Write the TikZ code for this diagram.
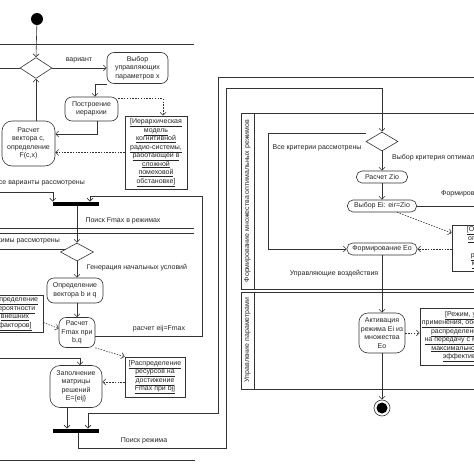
\documentclass[tikz,border=0pt]{standalone}
\usepackage{fontspec}
\setmainfont{Liberation Sans}
\usetikzlibrary{arrows.meta,shapes.geometric,calc}
\newcommand{\ft}{\fontsize{7}{8.5}\selectfont\lineskiplimit=-10pt\relax}
\newcommand{\ul}[1]{\underline{#1}}
\tikzset{
 base/.style={line width=0.6pt, draw=black!80},
 arr/.style={base, -{Straight Barb[length=3pt,width=6pt,line width=0.6pt]}},
 dasharr/.style={arr, dash pattern=on 1.5pt off 1.3pt},
 act/.style={draw=black!80, line width=0.6pt, rounded corners=7pt, align=center, font=\ft, text=black!85, inner sep=0.5pt},
 pill/.style={act, rounded corners=5.5pt},
 obj/.style={draw=black!80, line width=0.6pt, align=center, font=\ft, text=black!85, inner sep=0.5pt},
 dec/.style={draw=black!80, line width=0.6pt, diamond, inner sep=0pt},
 bar/.style={fill=black, inner sep=0pt, minimum width=46pt, minimum height=4.5pt},
 lbl/.style={font=\ft, text=black!85, inner sep=0pt},
 lane/.style={line width=0.9pt, draw=black!80},
}
\begin{document}
\begin{tikzpicture}[x=1pt,y=-1pt]
\useasboundingbox (0,0) rectangle (474,474);
\clip (0,0) rectangle (474,474);
\fill[white] (0,0) rectangle (474,474);

% ---------- left partition lines
\draw[base] (0,44) -- (194,44);
\draw[base] (0,228) -- (194,228);
\draw[base] (0,233) -- (194,233);
\draw[base] (0,460) -- (195,460);

% ---------- right frame (swimlanes)
\draw[lane] (241,113) rectangle (490,289);
\draw[base] (254,113) -- (254,289);
\draw[lane] (241,292) rectangle (490,389);
\draw[base] (254,292) -- (254,389);
\node[lbl, rotate=90] (lane1) at (247.5,201) {Формирование множества оптимальных режимов};
\node[lbl, rotate=90] (lane2) at (247.5,340) {Управление параметрами};

% ---------- upper left nodes
\node[fill=black, circle, inner sep=0pt, minimum size=12pt] (start) at (37,19) {};
\node[dec, minimum width=32pt, minimum height=21pt] (d1) at (36,68) {};
\node[act, minimum width=61pt, minimum height=31pt] (vybor) at (137.5,68) {Выбор\\управляющих\\параметров x};
\node[act, minimum width=53pt, minimum height=24pt] (postr) at (91.5,109) {Построение\\иерархии};
\node[obj, minimum width=62pt, minimum height=73pt] (hier) at (156,152.5) {\ul{[Иерархическая}\\\ul{модель}\\\ul{когнитивной}\\\ul{радио-системы,}\\\ul{работающей в}\\\ul{сложной}\\\ul{помеховой}\\\ul{обстановке]}};
\node[act, minimum width=53pt, minimum height=45pt, rounded corners=10pt] (rv) at (28.5,143.5) {Расчет\\вектора c,\\определение\\F(c,x)};

\node[bar] (bar1) at (76,204) {};
\node[dec, minimum width=33pt, minimum height=18pt] (d2) at (77,252) {};
\node[act, minimum width=56pt, minimum height=25pt] (opr) at (75,290.5) {Определение\\вектора b и q};
\node[act, minimum width=36pt, minimum height=30pt] (rfm) at (77,332.5) {Расчет\\Fmax при\\b,q};
\node[obj, minimum width=56pt, minimum height=37pt] (vnesh) at (15,313.5) {\ul{[Определение}\\\ul{вероятности}\\\ul{внешних}\\\ul{факторов]}};
\node[obj, minimum width=60pt, minimum height=40pt] (rasp) at (155,377) {\ul{[Распределение}\\\ul{ресурсов на}\\\ul{достижение}\\\ul{Fmax при bj]}};
\node[act, minimum width=52pt, minimum height=42pt, rounded corners=10pt] (zap) at (76,386.5) {Заполнение\\матрицы\\решений\\E=\{eij\}};
\node[bar] (bar2) at (76,431) {};

% ---------- right nodes
\node[dec, minimum width=32pt, minimum height=19pt] (d3) at (382,141.5) {};
\node[pill, minimum width=51pt, minimum height=12pt] (zio) at (382,177) {Расчет Zio};
\node[pill, minimum width=69pt, minimum height=12pt] (vei) at (382,206) {Выбор Ei: eir=Zio};
\node[pill, minimum width=70pt, minimum height=12pt] (feo) at (382,249) {Формирование Eo};
\node[obj, minimum width=76pt, minimum height=46pt] (opt) at (490,248) {\ul{[Оптимальное}\\\ul{оптимальных}\\\ul{н-мерное}\\\ul{режимов по}\\\ul{критериям]}};
\node[act, minimum width=46pt, minimum height=40pt, rounded corners=9pt] (akt) at (382,333) {Активация\\режима Ei из\\множества\\Eo};
\node[obj, minimum width=104pt, minimum height=57pt] (rezh) at (472,336.5) {\ul{[Режим, условия}\\\ul{применения, обеспечивающий}\\\ul{распределение ресурсов}\\\ul{на передачу с максимальной}\\\ul{максимально возможной}\\\ul{эффективностью]}};
\node[circle, draw=black!80, line width=0.6pt, minimum size=16pt, inner sep=0pt,
  path picture={\fill[black] (path picture bounding box.center) circle (5.5pt);}] (end) at (382,408) {};

% ---------- labels
\node[lbl] (l1) at (79,60) {вариант};
\node[lbl, anchor=east] (l2) at (85,183) {Все варианты рассмотрены};
\node[lbl] (l3) at (123,221) {Поиск Fmax в режимах};
\node[lbl, anchor=east] (l4) at (60,241) {Все режимы рассмотрены};
\node[lbl] (l5) at (137,268) {Генерация начальных условий};
\node[lbl] (l6) at (159,329) {расчет eij=Fmax};
\node[lbl] (l7) at (144,441) {Поиск режима};
\node[lbl] (l8) at (317,148) {Все критерии рассмотрены};
\node[lbl, anchor=west] (l9) at (392,158) {Выбор критерия оптимальности};
\node[lbl, anchor=west] (l10) at (441,194) {Формирование множества};
\node[lbl] (l11) at (334,274) {Управляющие воздействия};

% ---------- coordinates for free ends / bends
\coordinate (c68) at (0,68);
\coordinate (c134) at (97,134);
\coordinate (c192) at (0,192);
\coordinate (c202) at (202,196);
\coordinate (c249) at (0,249);
\coordinate (c358) at (0,358);
\coordinate (e77) at (474,77);
\coordinate (c77) at (218,77);
\coordinate (c413) at (218,413);
\coordinate (c448) at (226,448);
\coordinate (c88) at (226,88);
\coordinate (c268) at (268,133);
\coordinate (e206) at (474,206);

% ---------- connectors left
\draw[arr] (start) -- (d1.north);
\draw[base] (d1.west) -- (c68);
\draw[arr] (d1.east) -- (vybor.west);
\draw[arr] (vybor.south west) -| ([xshift=3.5pt]postr.north);
\draw[dasharr] ([yshift=-2pt]postr.north east) -| ([xshift=7pt]hier.north);
\draw[arr] (postr.south -| c134) -- (c134) -- (c134 -| rv.east);
\draw[dasharr] (hier.west) -- (hier.west -| rv.east);
\draw[arr] (rv.north -| d1.south) -- (d1.south);
\draw[arr] (c192) -| (bar1.north west);
\draw[arr] ([yshift=-4pt]rfm.east) -- ([yshift=-4pt]rfm.east -| c202) -- (c202) -| ([xshift=14pt]bar1.north);
\draw[arr] (bar1.south -| d2.north) -- (d2.north);
\draw[base] (d2.165) -- (d2.165 -| c249);
\draw[arr] (d2.south) -- (d2.south |- opr.north);
\draw[arr] (opr.south -| rfm.north) -- (rfm.north);
\draw[dasharr] ([yshift=-9pt]vnesh.east) -- ([yshift=4pt]rfm.west);
\draw[dasharr] (rfm.south east) -- (rasp.north west);
\draw[arr] (c358) -| ([xshift=4pt]zap.north);
\draw[dasharr] ([yshift=-5pt]rasp.west) -- ([yshift=-5pt]rasp.west -| zap.east);
\draw[arr] ([xshift=-9pt]zap.south) -- ([xshift=-9pt]zap.south |- bar2.north);
\draw[arr] (e77) -- (c77) -- (c413) -| ([xshift=12pt]bar2.north);
\draw[arr] ([xshift=2pt]bar2.south) |- (c448) -- (c88) -| (d3.north);

% ---------- connectors right
\draw[arr] ([yshift=8.5pt]d3.west) -- (c268) |- (feo.west);
\draw[arr] (d3.south) -- (zio.north);
\draw[arr] (zio.south) -- (vei.north);
\draw[base] (vei.east) -- (e206);
\draw[dasharr] ([xshift=15pt]vei.south) -- ([yshift=15pt]opt.west);
\draw[dasharr] (opt.west |- feo.east) -- (feo.east);
\draw[arr] (feo.south) -- (akt.north);
\draw[dasharr] (akt.east) -- (akt.east -| rezh.west);
\draw[arr] (akt.south) -- (end.north);
\end{tikzpicture}
\end{document}
